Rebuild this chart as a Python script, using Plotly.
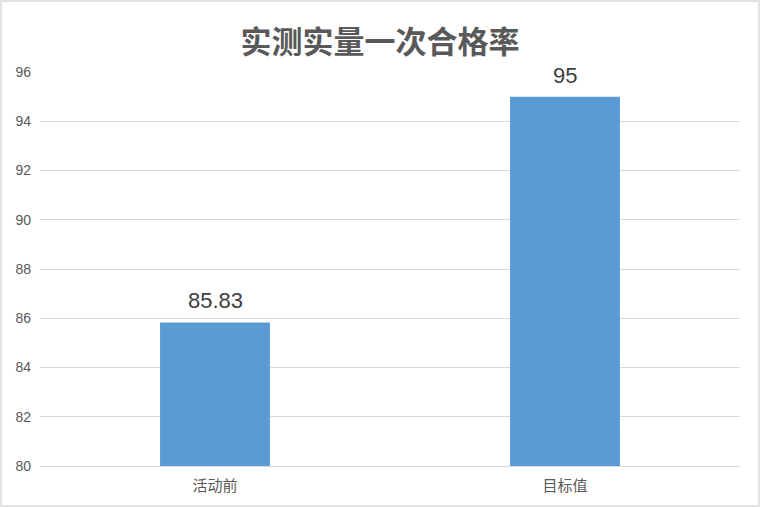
import plotly.graph_objects as go

# chart data
categories = ["活动前", "目标值"]
values = [85.83, 95]
value_labels = ["85.83", "95"]
tick_values = [80, 82, 84, 86, 88, 90, 92, 94, 96]

W, H = 760, 507
margin = dict(l=40, r=20, t=72, b=41)

fig = go.Figure()
fig.add_trace(go.Bar(
    x=categories, y=values, base=0,
    marker=dict(color="#5B9BD5", line=dict(width=0)),
    width=0.314,
))

# value labels above the bars
for cat, val, lab in zip(categories, values, value_labels):
    fig.add_annotation(x=cat, y=val, text=lab, showarrow=False,
                       yanchor="bottom", yshift=7,
                       font=dict(size=22, color="#404040"))

fig.update_yaxes(range=[80, 96], tickvals=tick_values, showgrid=True,
                 gridcolor="#D9D9D9", gridwidth=1, zeroline=False,
                 tickfont=dict(size=14, color="#595959"), ticks="",
                 ticklabelstandoff=8)
fig.update_xaxes(showline=True, linecolor="#D9D9D9", ticks="",
                 tickfont=dict(size=15, color="#595959"),
                 ticklabelstandoff=6)

# outer border of the chart area
pw = W - margin["l"] - margin["r"]
ph = H - margin["t"] - margin["b"]
fig.add_shape(type="rect", xref="paper", yref="paper",
              x0=-(margin["l"] - 1) / pw, x1=1 + (margin["r"] - 1) / pw,
              y0=-(margin["b"] - 1) / ph, y1=1 + (margin["t"] - 1) / ph,
              line=dict(color="#D9D9D9", width=1.5))

fig.update_layout(
    width=W, height=H, margin=margin,
    plot_bgcolor="white", paper_bgcolor="white",
    font=dict(family="Liberation Sans, Noto Sans CJK SC", color="#595959"),
    title=dict(text="实测实量一次合格率", x=0.5, xanchor="center", y=0.917, yanchor="middle",
               font=dict(family="Noto Sans CJK SC", size=31, color="#595959", weight="bold")),
    showlegend=False,
)
fig.write_html("out.html", config={"displayModeBar": False},
               post_script="document.body.style.margin='0';")
